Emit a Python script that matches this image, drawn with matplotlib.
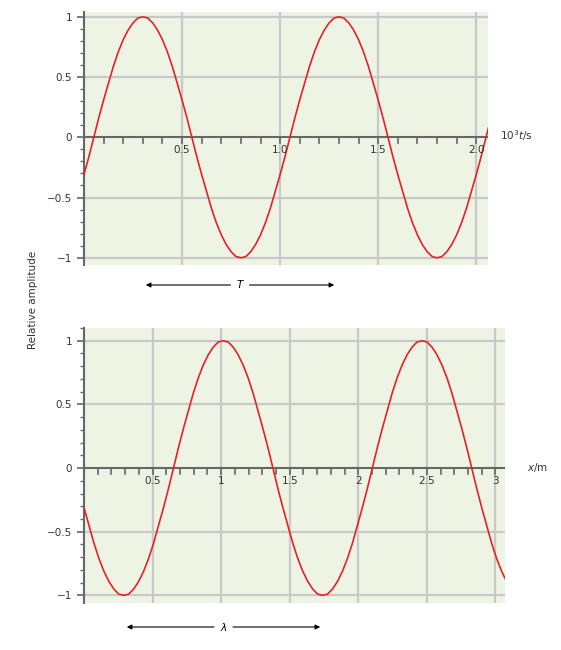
import numpy as np
import matplotlib
matplotlib.use("Agg")
import matplotlib.pyplot as plt
from matplotlib.ticker import MultipleLocator

# top: time in units of 1e-3 s, step 0.025
top_cycle = [-0.31,-0.16,0,0.16,0.31,0.45,0.59,0.71,0.81,0.89,0.95,0.99,1,0.99,0.95,0.89,0.81,0.71,0.59,0.45,
             0.31,0.16,0,-0.16,-0.31,-0.45,-0.59,-0.71,-0.81,-0.89,-0.95,-0.99,-1,-0.99,-0.95,-0.89,-0.81,-0.71,-0.59,-0.45]
top_amp = top_cycle + top_cycle + top_cycle[:4]
top_t = np.arange(len(top_amp)) * 0.025

# bottom: distance in m, step 0.03625
bot_cycle = [-0.31,-0.45,-0.59,-0.71,-0.81,-0.89,-0.95,-0.99,-1,-0.99,-0.95,-0.89,-0.81,-0.71,-0.59,-0.45,-0.31,-0.16,0,0.16,
             0.31,0.45,0.59,0.71,0.81,0.89,0.95,0.99,1,0.99,0.95,0.89,0.81,0.71,0.59,0.45,0.31,0.16,0,-0.16]
bot_amp = bot_cycle + bot_cycle + bot_cycle[:6]
bot_x = np.arange(len(bot_amp)) * 0.03625

top_ticks = [0.5, 1.0, 1.5, 2.0]
top_labels = ["0.5", "1.0", "1.5", "2.0"]
bot_ticks = [0.5, 1, 1.5, 2, 2.5, 3]
bot_labels = ["0.5", "1", "1.5", "2", "2.5", "3"]
y_ticks = [-1, -0.5, 0, 0.5, 1]
y_labels = ["\u22121", "\u22120.5", "0", "0.5", "1"]

fig = plt.figure(figsize=(5.61, 6.5), dpi=100)
ax1 = fig.add_axes([84/561, 1-265/650, (488-84)/561, 253/650])
ax2 = fig.add_axes([84/561, 1-603/650, (505-84)/561, 275/650])

spine_c = "#666666"
def style(ax, x, y, xlim, ylim, xt, xl):
    ax.set_facecolor("#eef4e4")
    ax.plot(x, y, color="#e8202a", lw=1.2, zorder=3)
    ax.set_xlim(*xlim); ax.set_ylim(*ylim)
    for g in xt:
        ax.axvline(g, color="#c8c8c8", lw=1.6, zorder=1)
    for g in [-1, -0.5, 0.5, 1]:
        ax.axhline(g, color="#c8c8c8", lw=1.6, zorder=1)
    for s in ["top", "right", "bottom"]:
        ax.spines[s].set_visible(False)
    ax.spines["left"].set_color(spine_c); ax.spines["left"].set_linewidth(1.5)
    ax.axhline(0, color=spine_c, lw=1.5, zorder=2)
    for v in np.arange(0.1, xlim[1], 0.1):
        ax.plot([v, v], [0, -0.045], color=spine_c, lw=1.2, zorder=2)
    for v, l in zip(xt, xl):
        ax.text(v, -0.06, l, ha="center", va="top", fontsize=7.5, color="#333333", zorder=4)
    ax.set_xticks([])
    ax.set_yticks(y_ticks, y_labels)
    ax.yaxis.set_minor_locator(MultipleLocator(0.1))
    ax.tick_params(axis="y", colors=spine_c, labelcolor="#333333", labelsize=7.5, length=5, width=1.2)
    ax.tick_params(axis="y", which="minor", colors=spine_c, length=3, width=1)

style(ax1, top_t, top_amp, (0, 2.06), (-1.06, 1.04), top_ticks, top_labels)
style(ax2, bot_x, bot_amp, (0, 3.07), (-1.06, 1.1), bot_ticks, bot_labels)

fig.text(500/561, 1-136/650, r"10$^3$$t$/s", fontsize=7.5, va="center", color="#333333")
fig.text(527/561, 1-468/650, r"$x$/m", fontsize=7.5, va="center", color="#333333")
fig.text(33/561, 1-300/650, "Relative amplitude", rotation=90, fontsize=7.5, ha="center", va="center", color="#333333")

def arrow(x0, x1, y, label):
    xm = (x0 + x1) / 2
    ann = dict(arrowstyle="-|>", color="black", lw=0.8, mutation_scale=7)
    fig.add_artist(matplotlib.patches.FancyArrowPatch((xm/561 - 0.012, 1-y/650), (x0/561, 1-y/650), transform=fig.transFigure, **ann))
    fig.add_artist(matplotlib.patches.FancyArrowPatch((xm/561 + 0.012, 1-y/650), (x1/561, 1-y/650), transform=fig.transFigure, **ann))
    fig.text(xm/561, 1-y/650, label, ha="center", va="center", fontsize=7.5, style="italic")

arrow(143, 337, 285, "T")
arrow(124, 323, 627, r"$\lambda$")

fig.savefig("out.png", dpi=100)
